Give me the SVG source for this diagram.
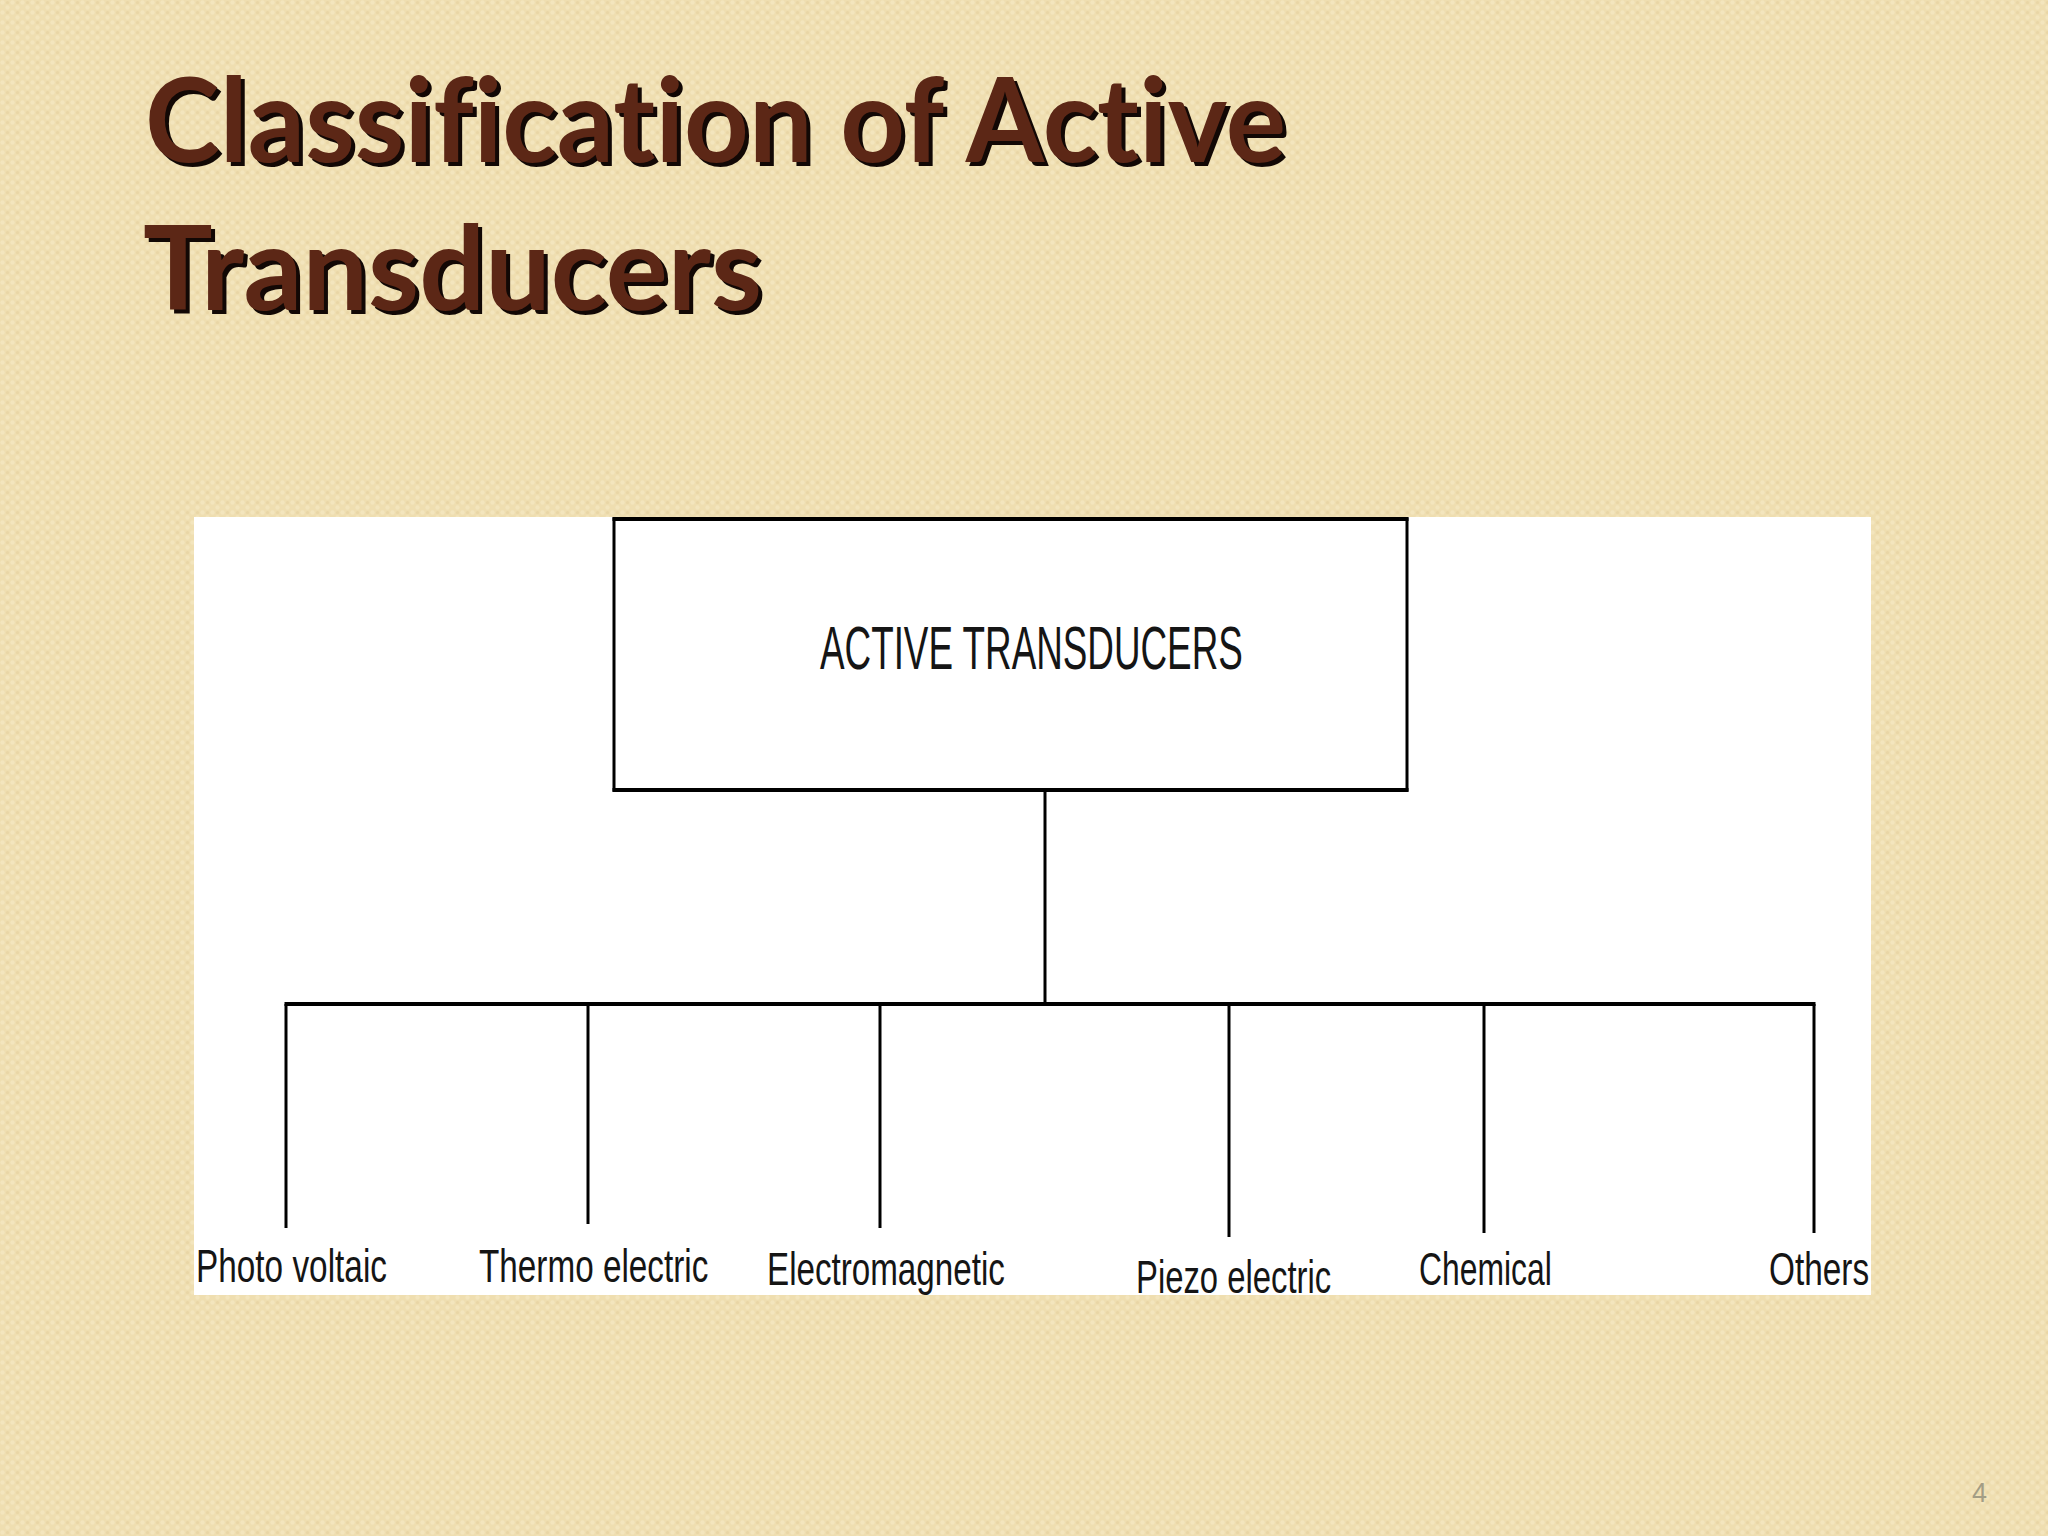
<svg xmlns="http://www.w3.org/2000/svg" width="2048" height="1536" viewBox="0 0 2048 1536">
<defs>
<pattern id="tex" width="10" height="10" patternUnits="userSpaceOnUse">
<rect width="10" height="10" fill="#efdeb0"/>
<circle cx="2.5" cy="2.5" r="2.2" fill="#f3e5bd"/>
<circle cx="7.5" cy="7.5" r="2.2" fill="#f3e5bd"/>
<circle cx="7.5" cy="2.5" r="1.6" fill="#e9d6a6"/>
</pattern>
<style>
.title{font-family:Lato,"Open Sans","Liberation Sans",sans-serif;font-size:116px;font-weight:bold;font-variant-ligatures:none}
.shadow{fill:#120805}
.main{fill:#5c2716}
.lbl{font-family:"Liberation Sans","DejaVu Sans",sans-serif;font-size:47px;fill:#151515}
.box{fill:#ffffff;stroke:#000;stroke-width:3}
.conn line{stroke:#000;stroke-width:3}
</style>
</defs>
<rect width="2048" height="1536" fill="url(#tex)"/>
<g id="title">
<text class="title shadow" x="149" y="166" textLength="1141" lengthAdjust="spacingAndGlyphs">Classification of Active</text>
<text class="title main" x="145" y="162" textLength="1141" lengthAdjust="spacingAndGlyphs">Classification of Active</text>
<text class="title shadow" x="147" y="314" textLength="619" lengthAdjust="spacingAndGlyphs">Transducers</text>
<text class="title main" x="143" y="310" textLength="619" lengthAdjust="spacingAndGlyphs">Transducers</text>
</g>
<rect id="panel" x="194" y="517" width="1677" height="778" fill="#ffffff"/>
<g id="connectors" class="conn">
<line x1="1045" y1="791" x2="1045" y2="1004"/>
<line x1="284.5" y1="1004" x2="1815.5" y2="1004" style="stroke-width:4"/>
<line x1="286" y1="1004" x2="286" y2="1228"/>
<line x1="588" y1="1004" x2="588" y2="1224"/>
<line x1="880" y1="1004" x2="880" y2="1228"/>
<line x1="1229" y1="1004" x2="1229" y2="1237"/>
<line x1="1484" y1="1004" x2="1484" y2="1233"/>
<line x1="1814" y1="1004" x2="1814" y2="1233"/>
</g>
<g id="node-active">
<rect class="box" x="614" y="519" width="793" height="271"/>
<line x1="612.5" y1="519" x2="1408.5" y2="519" stroke="#000" stroke-width="4"/>
<line x1="612.5" y1="790" x2="1408.5" y2="790" stroke="#000" stroke-width="4"/>
<text class="lbl" transform="matrix(0.593,0,0,1,820,669)" style="font-size:62px" textLength="713" lengthAdjust="spacingAndGlyphs">ACTIVE TRANSDUCERS</text>
</g>
<g id="node-photovoltaic"><text class="lbl" transform="matrix(0.71,0,0,1,196,1282)" textLength="269" lengthAdjust="spacingAndGlyphs">Photo voltaic</text></g>
<g id="node-thermoelectric"><text class="lbl" transform="matrix(0.71,0,0,1,479,1282)" textLength="323" lengthAdjust="spacingAndGlyphs">Thermo electric</text></g>
<g id="node-electromagnetic"><text class="lbl" transform="matrix(0.71,0,0,1,767,1285)" textLength="335" lengthAdjust="spacingAndGlyphs">Electromagnetic</text></g>
<g id="node-piezoelectric"><text class="lbl" transform="matrix(0.71,0,0,1,1136,1293)" textLength="275" lengthAdjust="spacingAndGlyphs">Piezo electric</text></g>
<g id="node-chemical"><text class="lbl" transform="matrix(0.71,0,0,1,1419,1285)" textLength="187" lengthAdjust="spacingAndGlyphs">Chemical</text></g>
<g id="node-others"><text class="lbl" transform="matrix(0.71,0,0,1,1769,1285)" textLength="141" lengthAdjust="spacingAndGlyphs">Others</text></g>
<text x="1972" y="1502" font-family="'Liberation Sans',sans-serif" font-size="27" fill="#a39d85">4</text>
</svg>
